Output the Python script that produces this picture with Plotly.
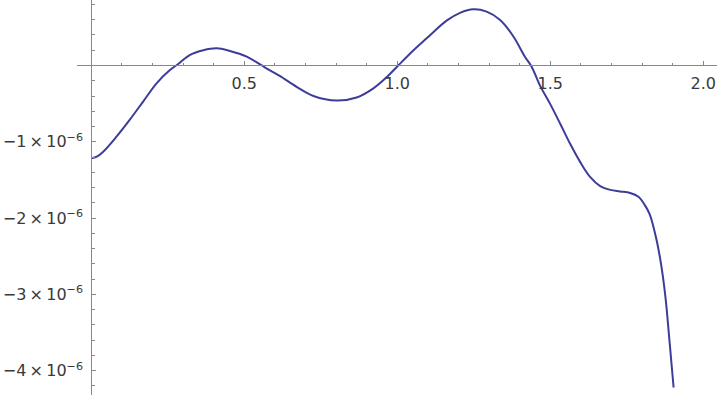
import plotly.graph_objects as go

# curve samples (y in units of 1e-6)
x_vals = [0.000, 0.018, 0.039, 0.083, 0.126, 0.170, 0.214, 0.257, 0.284, 0.323,
          0.366, 0.410, 0.453, 0.508, 0.557, 0.584, 0.617, 0.671, 0.726, 0.802,
          0.867, 0.922, 0.965, 1.003, 1.053, 1.096, 1.161, 1.205, 1.249, 1.292,
          1.336, 1.380, 1.417, 1.439, 1.466, 1.499, 1.532, 1.564, 1.597, 1.630,
          1.663, 1.696, 1.728, 1.761, 1.788, 1.809, 1.825, 1.847, 1.863, 1.877,
          1.890, 1.903]
y_micro = [-1.216, -1.195, -1.13, -0.93, -0.71, -0.47, -0.23, -0.06, 0.02, 0.14,
           0.20, 0.225, 0.19, 0.115, 0.00, -0.065, -0.14, -0.28, -0.40, -0.46,
           -0.42, -0.30, -0.155, 0.00, 0.20, 0.356, 0.587, 0.69, 0.736, 0.705,
           0.596, 0.377, 0.115, -0.016, -0.26, -0.50, -0.76, -1.02, -1.26, -1.46,
           -1.58, -1.63, -1.65, -1.67, -1.72, -1.83, -1.95, -2.28, -2.63, -3.06,
           -3.63, -4.22]
y_vals = [v * 1e-6 for v in y_micro]

x_ticks = [0.5, 1.0, 1.5, 2.0]
x_ticktext = ["0.5", "1.0", "1.5", "2.0"]
y_ticks = [-1e-6, -2e-6, -3e-6, -4e-6]
y_ticktext = ["\u22121\u2009\u00d7\u200910<sup>\u22126</sup>", "\u22122\u2009\u00d7\u200910<sup>\u22126</sup>",
              "\u22123\u2009\u00d7\u200910<sup>\u22126</sup>", "\u22124\u2009\u00d7\u200910<sup>\u22126</sup>"]

x_range = [-0.0467, 2.0448]
y_range = [-4.318e-6, 0.858e-6]

axis_col = "#888888"
text_col = "#3a3a3a"

fig = go.Figure()
fig.add_trace(go.Scatter(x=x_vals, y=y_vals, mode="lines",
                         line=dict(color="#3d3d99", width=2, shape="spline", smoothing=1.0),
                         hoverinfo="skip"))

# axes cross at the origin like Mathematica
xpos = (0 - y_range[0]) / (y_range[1] - y_range[0])
ypos = (0 - x_range[0]) / (x_range[1] - x_range[0])

fig.update_layout(
    width=722, height=401,
    margin=dict(l=77, r=5, t=0, b=6, autoexpand=False),
    plot_bgcolor="white", paper_bgcolor="white",
    showlegend=False,
    font=dict(family="DejaVu Sans", size=16, color=text_col),
    xaxis=dict(range=x_range, anchor="free", position=xpos, automargin=False,
               showgrid=False, zeroline=False, showline=True, linecolor=axis_col, linewidth=1,
               tickvals=x_ticks, ticktext=x_ticktext, ticks="inside", ticklen=4,
               tickcolor=axis_col, ticklabelstandoff=3,
               minor=dict(dtick=0.1, ticks="inside", ticklen=2.5, tickcolor=axis_col)),
    yaxis=dict(range=y_range, anchor="free", position=ypos, automargin=False,
               showgrid=False, zeroline=False, showline=True, linecolor=axis_col, linewidth=1,
               tickvals=y_ticks, ticktext=y_ticktext, ticks="inside", ticklen=4,
               tickcolor=axis_col, ticklabelstandoff=5,
               minor=dict(dtick=0.2e-6, tick0=0, ticks="inside", ticklen=2.5, tickcolor=axis_col)),
)

# drop the default page margin so the figure sits at the window corner
fig.write_html("out.html", config={"displayModeBar": False},
               post_script="document.body.style.margin='0px';")
